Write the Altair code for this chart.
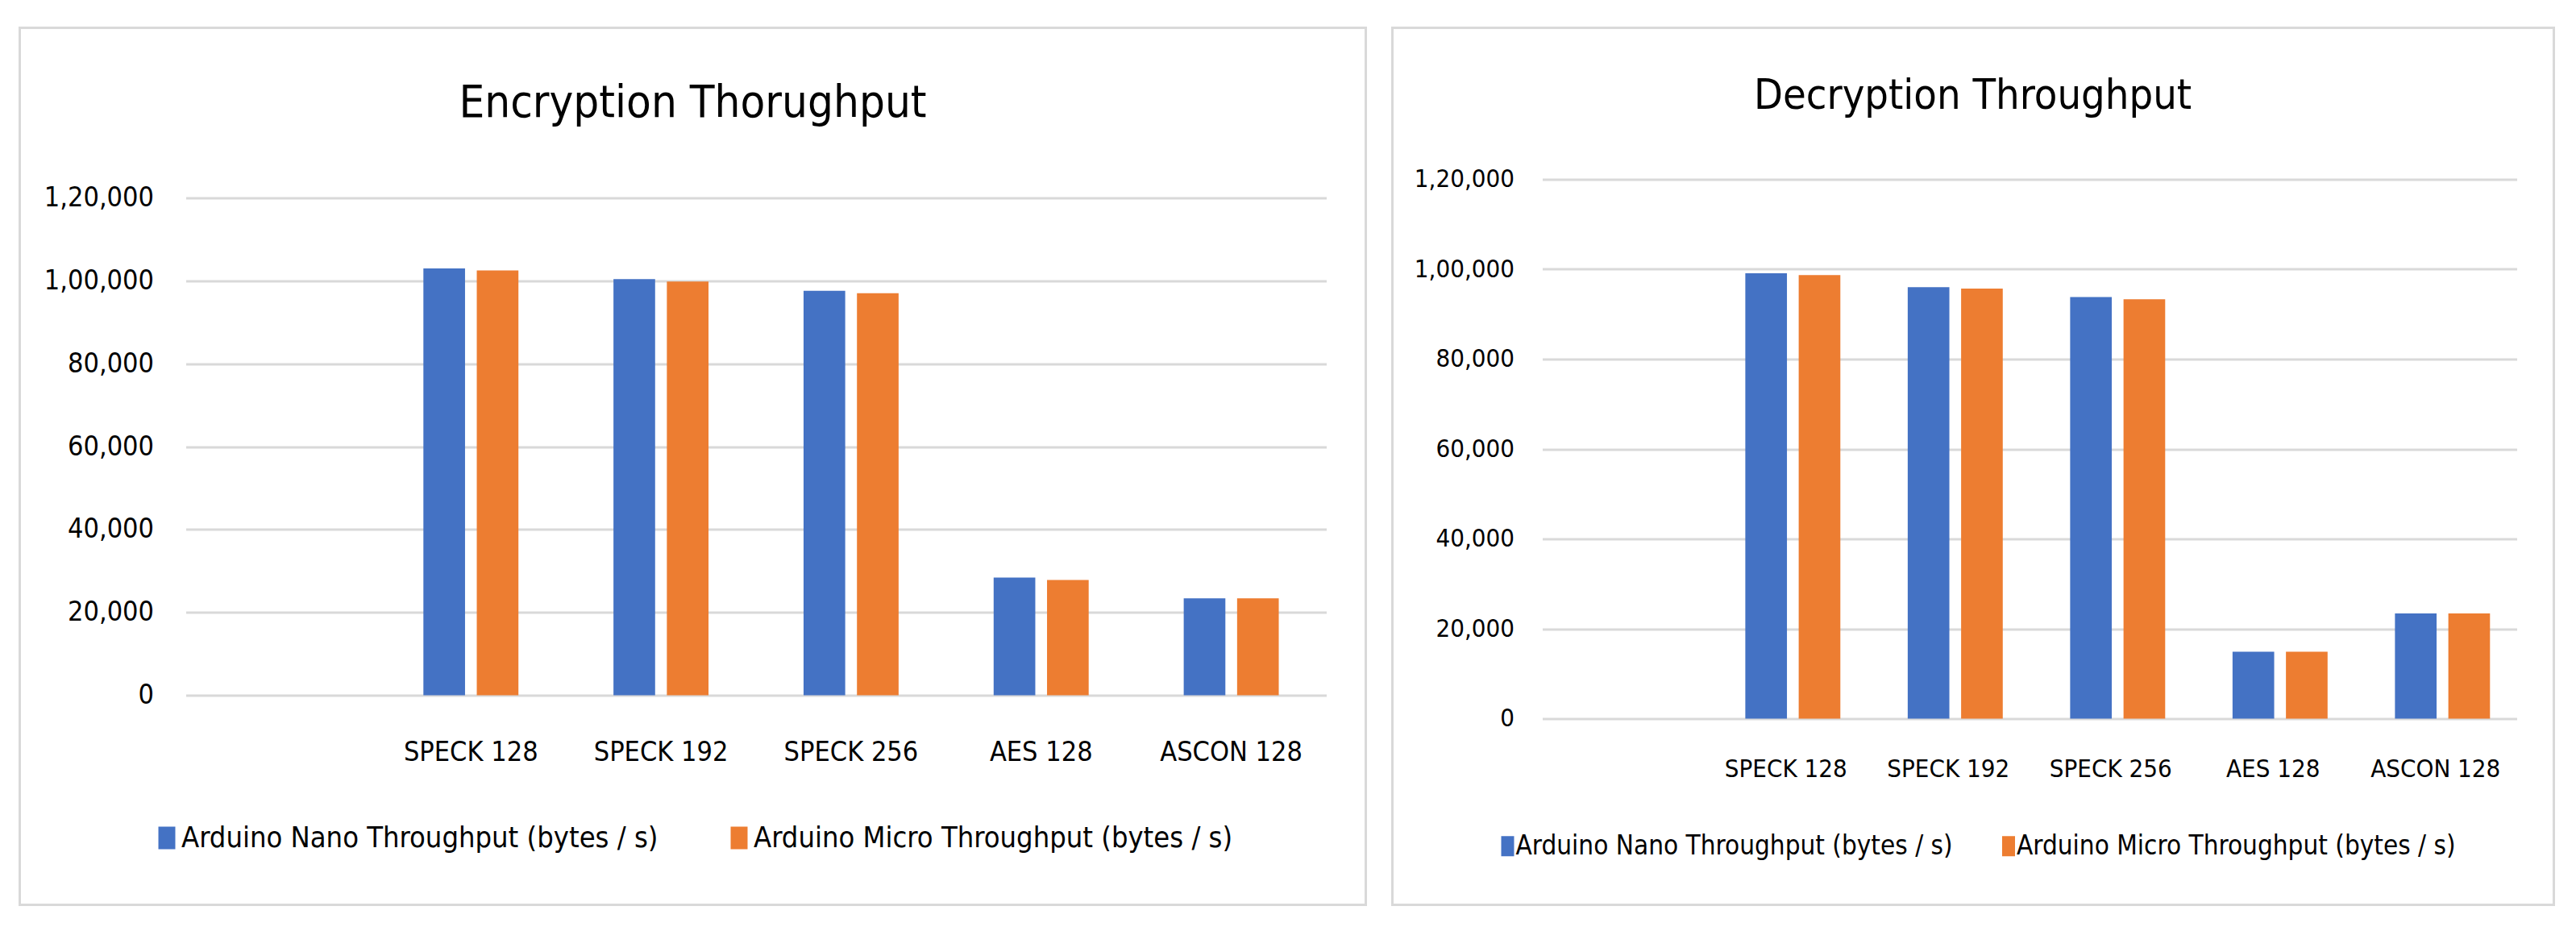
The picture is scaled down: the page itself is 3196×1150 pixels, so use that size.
import altair as alt
import pandas as pd

# ---- data ----
categories = ["", "SPECK 128", "SPECK 192", "SPECK 256", "AES 128", "ASCON 128"]
algorithms = ["SPECK 128", "SPECK 192", "SPECK 256", "AES 128", "ASCON 128"]
series_names = ["Arduino Nano Throughput (bytes / s)", "Arduino Micro Throughput (bytes / s)"]
series_colors = ["#4472C4", "#ED7D31"]

enc_nano = [103000, 100400, 97600, 28400, 23400]
enc_micro = [102500, 99800, 97000, 27800, 23400]
dec_nano = [99100, 96000, 93800, 14900, 23400]
dec_micro = [98700, 95700, 93300, 14900, 23400]

y_ticks = [0, 20000, 40000, 60000, 80000, 100000, 120000]
enc_title = "Encryption Thorughput"
dec_title = "Decryption Throughput"

FONT = "DejaVu Sans Condensed, DejaVu Sans, sans-serif"
GRID = "#d9d9d9"

INDIAN = ("datum.value >= 100000 ? floor(datum.value/100000) + ',' + "
          "format(floor((datum.value % 100000)/1000), '02') + ',' + format(datum.value % 1000, '03') "
          ": format(datum.value, ',')")


def make_df(nano, micro):
    rows = []
    for a, v in zip(algorithms, nano):
        rows.append({"cat": a, "series": series_names[0], "value": v})
    for a, v in zip(algorithms, micro):
        rows.append({"cat": a, "series": series_names[1], "value": v})
    return pd.DataFrame(rows)


one = pd.DataFrame({"k": [1]})


def panel(df, title, w, h, yrange, frame, title_pos, title_size, ylab_size, ylab_pad,
          xlab_size, xlab_pad, off_pad, leg):
    bars = alt.Chart(df).mark_bar().encode(
        x=alt.X("cat:N", title=None,
                scale=alt.Scale(domain=categories, paddingInner=0.5, paddingOuter=0.25),
                axis=alt.Axis(labelAngle=0, ticks=False, domain=False, grid=False,
                              labelFont=FONT, labelFontSize=xlab_size, labelColor="black",
                              labelPadding=xlab_pad, labelLimit=0)),
        xOffset=alt.XOffset("series:N", scale=alt.Scale(domain=series_names,
                                                        paddingInner=off_pad, paddingOuter=0)),
        y=alt.Y("value:Q", title=None,
                scale=alt.Scale(domain=[0, 120000], nice=False, range=yrange),
                axis=alt.Axis(values=y_ticks, labelExpr=INDIAN, ticks=False, tickSize=0,
                              domain=False, grid=True, gridColor=GRID, gridWidth=3,
                              labelFont=FONT, labelFontSize=ylab_size, labelColor="black",
                              labelPadding=ylab_pad)),
        color=alt.Color("series:N",
                        scale=alt.Scale(domain=series_names, range=series_colors),
                        legend=alt.Legend(orient="none", legendX=leg["x"], legendY=leg["y"],
                                          direction="horizontal", title=None,
                                          labelFont=FONT, labelFontSize=leg["fs"],
                                          labelColor="black", labelLimit=0,
                                          symbolType=leg["shape"], symbolSize=leg["size"],
                                          symbolStrokeWidth=0, labelOffset=leg["off"],
                                          columnPadding=leg["colpad"], padding=0)),
    )
    fx, fx2, fy, fy2 = frame
    border = alt.Chart(one).mark_rect(filled=False, stroke=GRID, strokeWidth=3).encode(
        x=alt.value(fx), x2=alt.value(fx2), y=alt.value(fy), y2=alt.value(fy2))
    ttl = alt.Chart(one).mark_text(font=FONT, fontSize=title_size, align="center",
                                   baseline="middle", color="black").encode(
        x=alt.value(title_pos[0]), y=alt.value(title_pos[1]), text=alt.value(title))
    return alt.layer(border, bars, ttl).properties(width=w, height=h)


left = panel(make_df(enc_nano, enc_micro), enc_title, 1415, 640, [640, 23],
             (-206, 1464, -188, 900), (629, -95), 56, 34, 40, 34, 53.5, 0.22,
             {"x": -41.5, "y": 799, "fs": 36, "shape": "M-0.75,-1H0.75V1H-0.75Z",
              "size": 784, "off": 0, "colpad": 82})

right = panel(make_df(dec_nano, dec_micro), dec_title, 1209, 669, [669, 0],
              (-186, 1255, -188, 900), (534, -104), 52, 31, 35, 31, 47.5, 0.24,
              {"x": -66, "y": 810.5, "fs": 33, "shape": "M-0.12,-1H1.16V1H-0.12Z",
               "size": 625, "off": 0, "colpad": 45.5})

chart = alt.hconcat(left, right, spacing=29).resolve_scale(
    color="independent").resolve_legend(color="independent").properties(
    padding={"left": 14.5, "top": 24.5, "right": 5, "bottom": 5},
    background="white",
).configure_view(stroke=None)

chart.save("out.html", embed_options={"renderer": "svg", "actions": False})
